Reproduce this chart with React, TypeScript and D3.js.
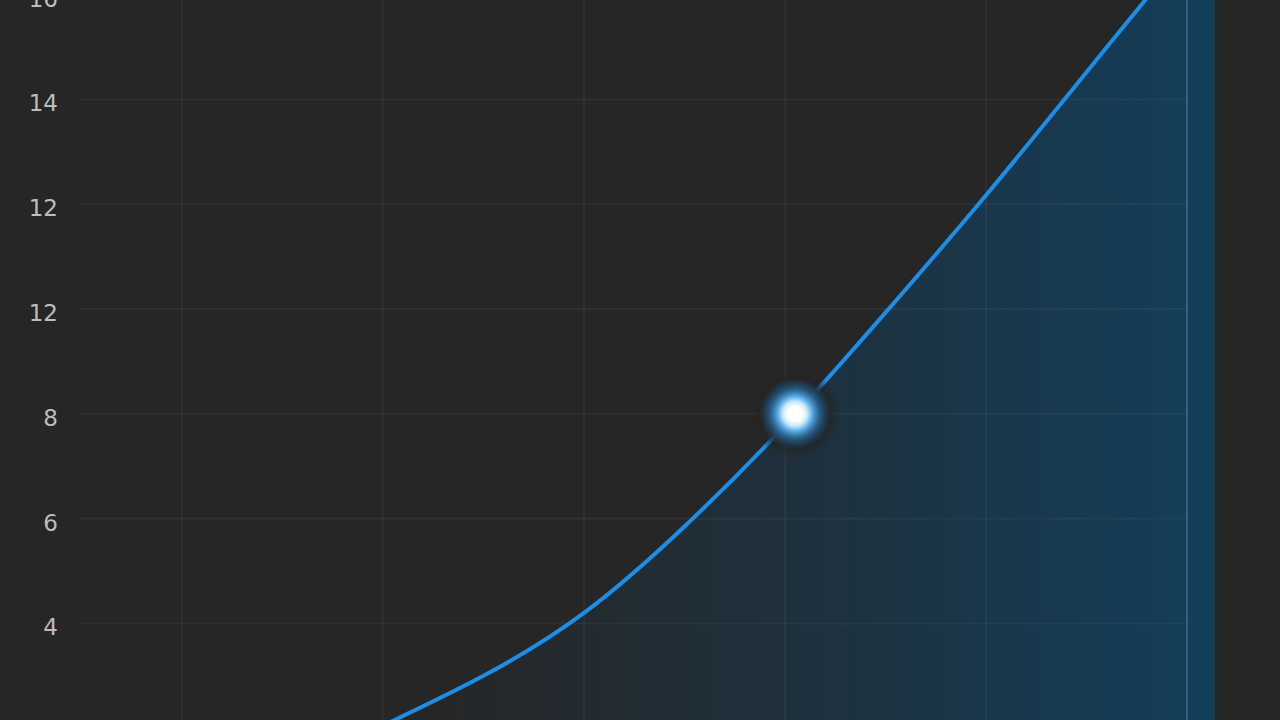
import React, { useEffect, useRef } from 'react';
import * as d3 from 'd3';

// curve samples (x in grid columns, y in chart units)
const xValues = [1.0, 1.5, 2.0, 2.5, 3.0, 3.5, 4.0, 4.5, 5.0, 5.2];
const yValues = [2.05, 3.0, 4.2, 5.85, 7.78, 9.93, 12.17, 14.52, 16.87, 17.8];

// y ticks, labels exactly as printed (the second "12" sits where 10 would be)
const yTickValues = [2, 4, 6, 8, 10, 12, 14, 16];
const yTickLabels = ['2', '4', '6', '8', '12', '12', '14', '16'];

// vertical grid columns
const xGridValues = [0, 1, 2, 3, 4];
const xEdgeValue = 5;

// highlighted point
const highlightX = 3.05;
const highlightY = 8.0;

const width = 1280;
const height = 720;

const App: React.FC = () => {
	const ref = useRef<SVGSVGElement>(null);

	useEffect(() => {
		if (!ref.current) return;
		const svg = d3.select(ref.current);
		svg.selectAll('*').remove();

		const x = d3.scaleLinear().domain([0, 5]).range([182, 1187]);
		const y = d3.scaleLinear().domain([0, 16]).range([833, -5.4]);

		const gridLeft = 80;
		const gridRight = 1185;
		const fillRight = 1215;

		const data = xValues.map((v, i) => ({ x: v, y: yValues[i] }));

		const defs = svg.append('defs');

		defs
			.append('clipPath')
			.attr('id', 'plot-clip')
			.append('rect')
			.attr('x', 0)
			.attr('y', 0)
			.attr('width', fillRight)
			.attr('height', height);

		// area fill gets bluer to the right
		const areaGrad = defs
			.append('linearGradient')
			.attr('id', 'area-grad')
			.attr('gradientUnits', 'userSpaceOnUse')
			.attr('x1', 420)
			.attr('x2', fillRight)
			.attr('y1', 0)
			.attr('y2', 0);
		areaGrad
			.append('stop')
			.attr('offset', '0%')
			.attr('stop-color', '#0f4468')
			.attr('stop-opacity', 0);
		areaGrad
			.append('stop')
			.attr('offset', '55%')
			.attr('stop-color', '#0f4468')
			.attr('stop-opacity', 0.4);
		areaGrad
			.append('stop')
			.attr('offset', '100%')
			.attr('stop-color', '#0d4569')
			.attr('stop-opacity', 0.78);

		// soft dark halo that hides the line around the dot
		const halo = defs.append('radialGradient').attr('id', 'halo');
		halo.append('stop').attr('offset', '0%').attr('stop-color', '#1f1f1f').attr('stop-opacity', 1);
		halo.append('stop').attr('offset', '68%').attr('stop-color', '#212121').attr('stop-opacity', 0.9);
		halo.append('stop').attr('offset', '100%').attr('stop-color', '#252525').attr('stop-opacity', 0);

		// glowing dot
		const glow = defs.append('radialGradient').attr('id', 'glow');
		glow.append('stop').attr('offset', '0%').attr('stop-color', '#ffffff').attr('stop-opacity', 1);
		glow.append('stop').attr('offset', '20%').attr('stop-color', '#ffffff').attr('stop-opacity', 1);
		glow.append('stop').attr('offset', '34%').attr('stop-color', '#c8eaff').attr('stop-opacity', 1);
		glow.append('stop').attr('offset', '50%').attr('stop-color', '#56b0f0').attr('stop-opacity', 0.92);
		glow.append('stop').attr('offset', '72%').attr('stop-color', '#2a84cc').attr('stop-opacity', 0.5);
		glow.append('stop').attr('offset', '100%').attr('stop-color', '#1a6fb0').attr('stop-opacity', 0);

		svg
			.append('rect')
			.attr('width', width)
			.attr('height', height)
			.attr('fill', '#262626');

		// --- Area under the curve ---
		const area = d3
			.area<{ x: number; y: number }>()
			.x((d) => x(d.x))
			.y0(y(0))
			.y1((d) => y(d.y))
			.curve(d3.curveNatural);

		svg
			.append('path')
			.datum(data)
			.attr('clip-path', 'url(#plot-clip)')
			.attr('d', area)
			.attr('fill', 'url(#area-grad)');

		// --- Grid ---
		svg
			.append('g')
			.selectAll('line')
			.data(xGridValues)
			.enter()
			.append('line')
			.attr('x1', (d) => x(d))
			.attr('x2', (d) => x(d))
			.attr('y1', 0)
			.attr('y2', height)
			.attr('stroke', '#ffffff')
			.attr('stroke-opacity', 0.04)
			.attr('stroke-width', 2);

		svg
			.append('line')
			.attr('x1', x(xEdgeValue))
			.attr('x2', x(xEdgeValue))
			.attr('y1', 0)
			.attr('y2', height)
			.attr('stroke', '#8fb4cc')
			.attr('stroke-opacity', 0.3)
			.attr('stroke-width', 2);

		svg
			.append('g')
			.selectAll('line')
			.data(yTickValues)
			.enter()
			.append('line')
			.attr('x1', gridLeft)
			.attr('x2', gridRight)
			.attr('y1', (d) => y(d))
			.attr('y2', (d) => y(d))
			.attr('stroke', '#ffffff')
			.attr('stroke-opacity', 0.045)
			.attr('stroke-width', 2);

		// --- Y labels ---
		svg
			.append('g')
			.selectAll('text')
			.data(yTickValues)
			.enter()
			.append('text')
			.attr('x', 58)
			.attr('y', (d) => y(d) + 4)
			.attr('dominant-baseline', 'central')
			.attr('text-anchor', 'end')
			.attr('font-family', 'DejaVu Sans, sans-serif')
			.attr('font-size', '23px')
			.attr('fill', '#bdbdbd')
			.text((d, i) => yTickLabels[i]);

		// --- Line ---
		const line = d3
			.line<{ x: number; y: number }>()
			.x((d) => x(d.x))
			.y((d) => y(d.y))
			.curve(d3.curveNatural);

		svg
			.append('path')
			.datum(data)
			.attr('clip-path', 'url(#plot-clip)')
			.attr('d', line)
			.attr('fill', 'none')
			.attr('stroke', '#1b8eea')
			.attr('stroke-width', 4)
			.attr('stroke-linecap', 'round');

		// --- Highlight dot ---
		const hx = x(highlightX);
		const hy = y(highlightY);
		svg
			.append('circle')
			.attr('cx', hx)
			.attr('cy', hy)
			.attr('r', 46)
			.attr('fill', 'url(#halo)');
		svg
			.append('circle')
			.attr('cx', hx)
			.attr('cy', hy)
			.attr('r', 36)
			.attr('fill', 'url(#glow)');
	}, []);

	return (
		<div
			style={{
				position: 'fixed',
				left: 0,
				top: 0,
				width,
				height,
				background: '#262626',
				overflow: 'hidden',
			}}>
			<svg
				ref={ref}
				width={width}
				height={height}
				style={{ display: 'block' }}></svg>
		</div>
	);
};

export default App;
